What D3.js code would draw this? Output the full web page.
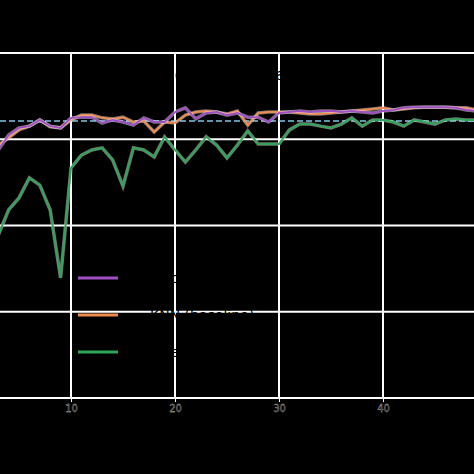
<!DOCTYPE html>
<html><head><meta charset="utf-8">
<script src="https://cdn.jsdelivr.net/npm/d3@7"></script>
<style>body{margin:0;background:#000}</style>
</head><body>
<script>
const width = 474
const height = 474

const epochs = d3.range(3, 50)
const purple = [0.719,0.762,0.783,0.788,0.806,0.788,0.783,0.812,0.814,0.814,0.797,0.806,0.800,0.791,0.812,0.800,0.800,0.829,0.841,0.809,0.826,0.829,0.820,0.826,0.814,0.814,0.800,0.826,0.829,0.832,0.829,0.832,0.832,0.829,0.832,0.829,0.826,0.832,0.835,0.841,0.843,0.843,0.843,0.843,0.841,0.835,0.832]
const orange = [0.733,0.754,0.777,0.788,0.806,0.786,0.783,0.806,0.820,0.820,0.812,0.809,0.814,0.800,0.803,0.771,0.800,0.797,0.820,0.829,0.832,0.829,0.823,0.832,0.791,0.826,0.829,0.829,0.829,0.826,0.823,0.823,0.826,0.829,0.832,0.835,0.838,0.841,0.835,0.838,0.841,0.843,0.843,0.843,0.841,0.841,0.835]
const green = [0.472,0.545,0.580,0.638,0.617,0.545,0.348,0.667,0.704,0.719,0.725,0.690,0.614,0.725,0.719,0.699,0.757,0.719,0.684,0.719,0.757,0.733,0.696,0.733,0.774,0.736,0.736,0.736,0.777,0.794,0.794,0.788,0.783,0.794,0.812,0.788,0.806,0.806,0.800,0.788,0.806,0.800,0.794,0.806,0.809,0.806,0.806]
const baseline = 0.803
const xTicks = [10, 20, 30, 40]
const yTicks = [0, 0.25, 0.5, 0.75, 1]
const series = [
    { name: "Model", values: purple, color: "#a04fc4" },
    { name: "KNN (baseline)", values: orange, color: "#ef8a50" },
    { name: "Linear", values: green, color: "#2fa557" },
]

const x = d3.scaleLinear().domain([0, 50]).range([-33, 487])
const y = d3.scaleLinear().domain([0, 1]).range([398, 53])

const svg = d3.select("body").append("svg")
    .attr("width", width).attr("height", height)
    .style("background", "#000")

svg.append("defs").append("clipPath").attr("id", "clip")
    .append("rect").attr("x", 0).attr("y", 53).attr("width", width).attr("height", 345)

const grid = svg.append("g").attr("stroke", "#fff").attr("stroke-width", 2)
grid.selectAll("line.v").data(xTicks).join("line")
    .attr("x1", (d) => x(d)).attr("x2", (d) => x(d))
    .attr("y1", y(1)).attr("y2", y(0))
grid.selectAll("line.h").data(yTicks).join("line")
    .attr("x1", 0).attr("x2", width)
    .attr("y1", (d) => y(d)).attr("y2", (d) => y(d))

svg.append("g").attr("transform", `translate(0,${y(0)})`)
    .call(d3.axisBottom(x).tickValues(xTicks).tickSize(4))
    .call((g) => g.select(".domain").remove())
    .call((g) => g.selectAll("line").attr("stroke", "#fff"))
    .call((g) => g.selectAll("text").attr("fill", "#000").attr("stroke", "#ddd")
        .attr("stroke-width", 0.3).attr("font-size", 10).attr("font-family", "DejaVu Sans"))

const plot = svg.append("g").attr("clip-path", "url(#clip)")

plot.append("line")
    .attr("x1", 0).attr("x2", width)
    .attr("y1", y(baseline)).attr("y2", y(baseline))
    .attr("stroke", "#7fc8e8").attr("stroke-width", 1.5).attr("stroke-dasharray", "6,3")

const line = d3.line().x((d, i) => x(epochs[i])).y((d) => y(d))

series.slice().reverse().forEach((s) => {
    plot.append("path").datum(s.values)
        .attr("fill", "none").attr("stroke", "#fff").attr("stroke-opacity", 0.45)
        .attr("stroke-width", 3.5).attr("d", line)
    plot.append("path").datum(s.values)
        .attr("fill", "none").attr("stroke", s.color)
        .attr("stroke-width", 2).attr("d", line)
})

svg.append("text").attr("x", 225).attr("y", 80).attr("text-anchor", "middle")
    .attr("fill", "#000").attr("font-size", 16).attr("font-family", "DejaVu Sans")
    .text("Validation Accuracy")

const legend = svg.append("g")
series.forEach((s, i) => {
    const ly = 278 + i * 37
    legend.append("line").attr("x1", 78).attr("x2", 118).attr("y1", ly).attr("y2", ly)
        .attr("stroke", s.color).attr("stroke-width", 3)
    legend.append("text").attr("x", 150).attr("y", ly + 5)
        .attr("fill", "#000").attr("font-size", 14).attr("font-family", "DejaVu Sans")
        .text(s.name)
})
</script>
</body></html>
